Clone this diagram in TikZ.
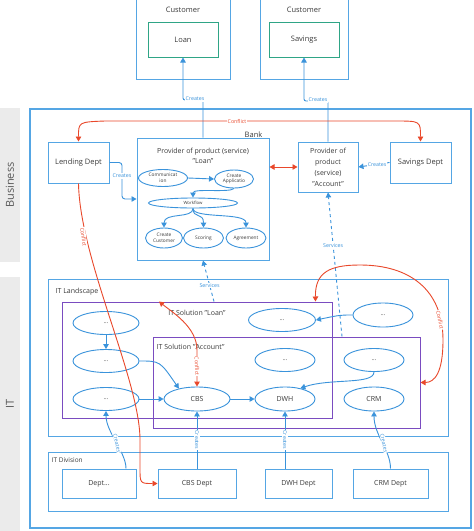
\documentclass[tikz,border=0pt]{standalone}
\usepackage{fontspec}
\setmainfont{Open Sans}
\usetikzlibrary{arrows.meta,shapes.geometric,calc}
\definecolor{bl}{HTML}{3A93DB}
\definecolor{bbx}{HTML}{55A6E4}
\definecolor{rd}{HTML}{E9482B}
\definecolor{pu}{HTML}{7A4CC0}
\definecolor{gr}{HTML}{2FA586}
\definecolor{band}{HTML}{EBEBEB}
\definecolor{txt}{HTML}{3A3A3A}
\tikzset{
 bx/.style={draw=bbx, line width=1pt, fill=white, inner sep=0pt, text=txt, align=center, font=\fontsize{7.5}{9}\selectfont},
 grn/.style={bx, draw=gr},
 pbx/.style={draw=pu, line width=1pt, inner sep=0pt},
 plain/.style={inner sep=0.5pt, text=txt, align=center, font=\fontsize{7.5}{9}\selectfont},
 el/.style={ellipse, draw=bl, line width=0.9pt, fill=white, inner sep=0pt, text=txt, align=center, font=\fontsize{6}{7}\selectfont},
 sel/.style={el, font=\fontsize{4.8}{5.6}\selectfont},
 con/.style={draw=bl, line width=0.9pt, -{Triangle[length=5pt,width=5.5pt]}},
 rcon/.style={draw=rd, line width=0.9pt, {Triangle[length=5pt,width=5.5pt]}-{Triangle[length=5pt,width=5.5pt]}},
 lbl/.style={font=\fontsize{5.3}{6}\selectfont, text=bl, fill=white, inner sep=0.6pt},
 rlbl/.style={lbl, text=rd},
}
\begin{document}
\begin{tikzpicture}[x=1pt,y=-1pt]
\useasboundingbox (0,0) rectangle (474,531);
% side bands
\fill[band] (0,108) rectangle (20,262);
\fill[band] (0,277) rectangle (20,531);
\node[rotate=90, text=txt!85, font=\fontsize{11}{13}\selectfont] (lbus) at (10,185) {Business};
\node[rotate=90, text=txt!85, font=\fontsize{11}{13}\selectfont] (lit) at (10,404) {IT};
% main bank box
\node[bx, line width=1.3pt, minimum width=441pt, minimum height=419pt] (main) at (250.5,318.5) {};
% customers
\node[bx, minimum width=94pt, minimum height=84pt] (cust1) at (183,37) {};
\node[plain] (c1t) at (183,10) {Customer};
\node[grn, minimum width=70pt, minimum height=35pt] (loan) at (183,39.5) {Loan};
\node[bx, minimum width=88pt, minimum height=84pt] (cust2) at (304,37) {};
\node[plain] (c2t) at (304,10) {Customer};
\node[grn, minimum width=70pt, minimum height=35pt] (savings) at (304,39.5) {Savings};
% business
\node[plain, anchor=east] (bank) at (263,135) {Bank};
\node[bx, minimum width=132pt, minimum height=122pt] (provLoan) at (203,199) {};
\node[plain, font=\fontsize{7}{10}\selectfont] (plt) at (203,156) {Provider of product (service)\\"Loan"};
\node[bx, minimum width=61pt, minimum height=41pt] (lending) at (78.5,162.5) {Lending Dept};
\node[bx, minimum width=61pt, minimum height=41pt] (savingsDept) at (420.5,162.5) {Savings Dept};
\node[bx, minimum width=60pt, minimum height=50pt, font=\fontsize{7}{11}\selectfont] (provAcc) at (328,167) {Provider of\\product\\(service)\\"Account"};
% process ellipses
\node[sel, minimum width=49pt, minimum height=17pt] (comm) at (163,178) {Communicat\\ion};
\node[sel, minimum width=39pt, minimum height=18pt] (capp) at (234,179) {Create\\Applicatio};
\node[sel, minimum width=89pt, minimum height=10pt, font=\fontsize{4.3}{5}\selectfont] (wf) at (193,203) {Workflow};
\node[sel, minimum width=37pt, minimum height=20pt] (ccust) at (164,238) {Create\\Customer};
\node[sel, minimum width=40pt, minimum height=20pt] (scor) at (203.5,238) {Scoring};
\node[sel, minimum width=40pt, minimum height=20pt] (agr) at (246,238) {Agreement};
% IT landscape
\node[bx, minimum width=400pt, minimum height=157pt] (itland) at (248,357.5) {};
\node[plain, anchor=west, font=\fontsize{7}{8}\selectfont] (itlt) at (55,292) {IT Landscape};
\node[pbx, minimum width=270pt, minimum height=116pt] (solLoan) at (197,360) {};
\node[pbx, minimum width=267pt, minimum height=91pt] (solAcc) at (286.5,382.5) {};
\node[plain, font=\fontsize{7}{8}\selectfont] (slt) at (197,313) {IT Solution "Loan"};
\node[plain, anchor=west, font=\fontsize{7}{8}\selectfont] (sat) at (156,347) {IT Solution "Account"};
% IT ellipses
\node[el, minimum width=66pt, minimum height=23pt] (e1) at (106,323) {...};
\node[el, minimum width=66pt, minimum height=23pt] (e2) at (106,361) {...};
\node[el, minimum width=66pt, minimum height=23pt] (e3) at (106,399) {...};
\node[el, minimum width=66pt, minimum height=24pt, font=\fontsize{7}{8}\selectfont] (cbs) at (197,399) {CBS};
\node[el, minimum width=60pt, minimum height=24pt, font=\fontsize{7}{8}\selectfont] (dwh) at (285,399) {DWH};
\node[el, minimum width=60pt, minimum height=24pt, font=\fontsize{7}{8}\selectfont] (crm) at (374,399) {CRM};
\node[el, minimum width=67pt, minimum height=23pt] (e4) at (282,320) {...};
\node[el, minimum width=60pt, minimum height=23pt] (e5) at (285,360) {...};
\node[el, minimum width=60pt, minimum height=24pt] (e6) at (383,315) {...};
\node[el, minimum width=60pt, minimum height=23pt] (e7) at (374,360) {...};
% IT division
\node[bx, minimum width=400pt, minimum height=59pt] (itdiv) at (248,481.5) {};
\node[plain, anchor=west, font=\fontsize{6.5}{8}\selectfont] (itdt) at (51,460) {IT Division};
\node[bx, minimum width=74pt, minimum height=29pt, font=\fontsize{7}{8}\selectfont] (dept0) at (99,483.5) {Dept...};
\node[bx, minimum width=78pt, minimum height=29pt, font=\fontsize{7}{8}\selectfont] (cbsD) at (197,483.5) {CBS Dept};
\node[bx, minimum width=67pt, minimum height=29pt, font=\fontsize{7}{8}\selectfont] (dwhD) at (298.5,483.5) {DWH Dept};
\node[bx, minimum width=75pt, minimum height=29pt, font=\fontsize{7}{8}\selectfont] (crmD) at (390.5,483.5) {CRM Dept};
% coordinates
\coordinate (sv1) at ($(solLoan.north)+(17,0)$);
\coordinate (sv2) at ($(solAcc.north)+(55.5,0)$);
\coordinate (cf1) at ($(solLoan.north)+(-38,0)$);
\coordinate (cf2) at ($(solLoan.north east)+(-17,0)$);
\coordinate (d0s) at ($(dept0.north)+(27,0)$);
% creates (business)
\draw[con, rounded corners=2pt] (provLoan.north) -- (203,100) -- (183,100) -- (loan.south);
\node[lbl] (lc1) at (195,99) {Creates};
\draw[con, rounded corners=2pt] (provAcc.north) -- (328,101) -- (304,101) -- (savings.south);
\node[lbl] (lc2) at (318,100) {Creates};
\draw[con, rounded corners=3pt] (lending.east) -- (122,162.5) -- (122,199) -- (provLoan.west);
\node[lbl] (lc3) at (122,176) {Creates};
\draw[con] (savingsDept.west) -- node[lbl, pos=0.4] (lc4) {Creates} (provAcc.east);
\draw[rcon] (provLoan.east |- provAcc.west) -- (provAcc.west);
% process arrows
\draw[con] (comm.east) -- (capp.west);
\draw[con] (capp.south) .. controls (230,193) and (193,188) .. (wf.north);
\draw[con] (wf.south) .. controls (193,219) and (164,212) .. (ccust.north);
\draw[con] (wf.south) .. controls (193,219) and (203.5,212) .. (scor.north);
\draw[con] (wf.south) .. controls (193,219) and (246,212) .. (agr.north);
% conflicts (business)
\draw[rcon] (lending.north) .. controls (78.5,122) .. (105,121) -- (395,121) .. controls (420.5,121) .. (savingsDept.north);
\node[rlbl] (rl1) at (237,121) {Conflict};
\draw[rcon, -{Triangle[length=5pt,width=5.5pt]}] (lending.south) .. controls (80,260) and (140,380) .. (140,440) -- (140,468) .. controls (140,483.5) .. (cbsD.west);
\node[rlbl, rotate=-82] (rl2) at (83.5,237) {Conflict};
% services
\draw[con, dashed] (sv1) -- node[lbl, pos=0.4] (sl1) {Services} (provLoan.south);
\draw[con, dashed] (sv2) -- node[lbl, pos=0.63] (sl2) {Services} (provAcc.south);
% IT arrows
\draw[con] (e1.south) -- (e2.north);
\draw[con] (e2.east) .. controls (160,361) .. (cbs.150);
\draw[con] (e3.east) -- (cbs.west);
\draw[con] (cbs.east) -- (dwh.west);
\draw[con] (e7.south) .. controls (374,385) and (330,378) .. (dwh.35);
\draw[con] (e6.west) .. controls (340,315) .. (e4.east);
% IT conflicts
\draw[rcon] (cbs.north) -- (197,350) .. controls (197,327) and (172,312) .. (cf1);
\node[rlbl, rotate=-88] (rl3) at (197,366) {Conflict};
\draw[rcon] (cf2) .. controls (315,272) and (330,265) .. (360,265) .. controls (410,265) and (443,290) .. (443,340) .. controls (443,372) and (435,382.5) .. (solAcc.east);
\node[rlbl, rotate=-78] (rl4) at (440,320) {Conflict};
% creates (IT)
\draw[con] (d0s) .. controls (126,452) and (106,432) .. (e3.south);
\node[lbl, rotate=-77] (lc5) at (117,443) {Creates};
\draw[con] (cbsD.north) -- node[lbl, rotate=-90] (lc6) {Creates} (cbs.south);
\draw[con] (dwh.south |- dwhD.north) -- node[lbl, rotate=-90] (lc7) {Creates} (dwh.south);
\draw[con] (crmD.north) .. controls (390.5,450) and (374,435) .. (crm.south);
\node[lbl, rotate=-77] (lc8) at (384,443) {Creates};
\end{tikzpicture}
\end{document}
